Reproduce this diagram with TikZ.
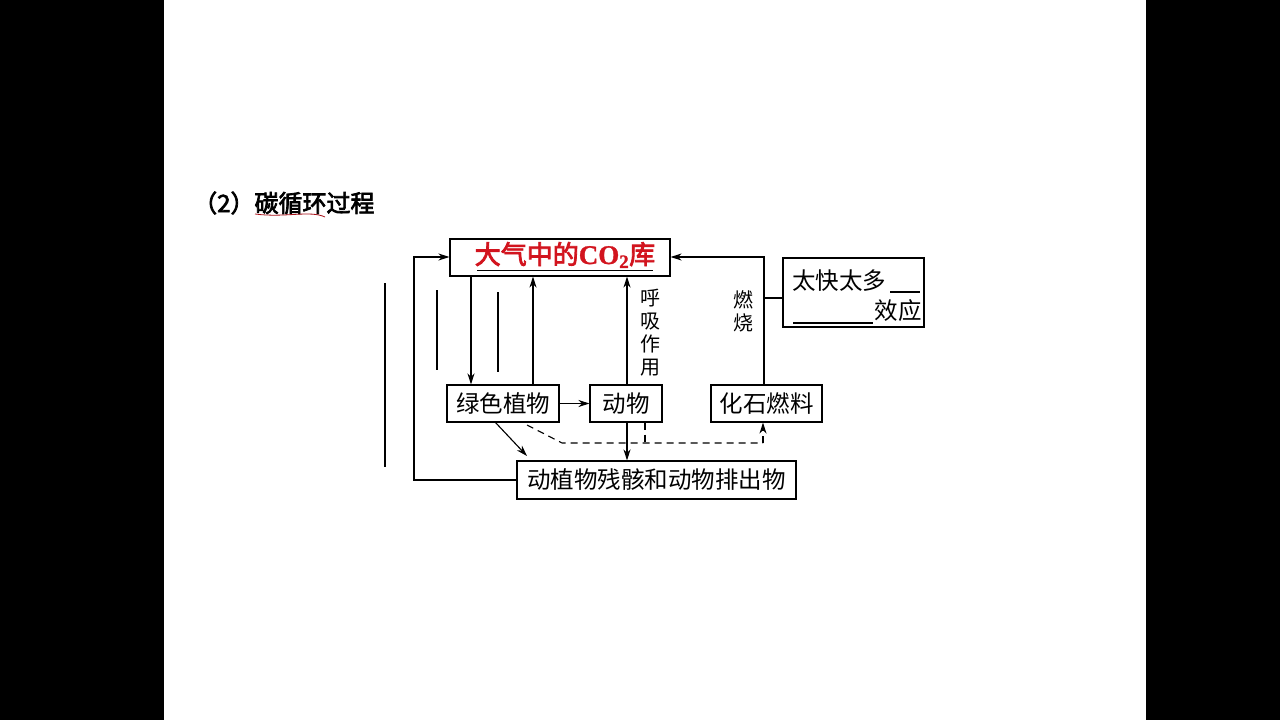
\documentclass[tikz,border=0pt]{standalone}
\usepackage{fontspec}
\newfontfamily\cjk{Noto Sans CJK SC}
\newfontfamily\cjkb{Noto Sans CJK SC}[FakeBold=3]
\newfontfamily\serb{Liberation Serif}[FakeBold=1]
\setmainfont{Liberation Serif}
\usetikzlibrary{arrows.meta}
\definecolor{redtxt}{RGB}{210,20,30}
\begin{document}
\begin{tikzpicture}[x=1pt,y=-1pt,
  box/.style={draw,line width=1.1pt,inner sep=0pt,font=\cjk\fontsize{23.5}{23.5}\selectfont},
  conn/.style={line width=1.1pt,-{Stealth[length=11pt,width=7pt]}},
  plain/.style={line width=1.1pt},
  dashln/.style={line width=1.1pt,dash pattern=on 7pt off 5pt},
  blank/.style={line width=1.1pt}]
\fill[black] (0,0) rectangle (1280,720);
\fill[white] (164,0) rectangle (1146,720);
\useasboundingbox (0,0) rectangle (1280,720);
% title
\node[anchor=west,inner sep=0pt,font=\cjkb\fontsize{24}{24}\selectfont] (title) at (193,203) {（2）碳循环过程};
\draw[redtxt!80!black,line width=0.8pt] (255,214) .. controls (285,218) and (310,210) .. (325,217);
% boxes
\node[box,minimum width=220pt,minimum height=37pt] (atm) at (560,257.5) {};
\node[inner sep=0pt,text=redtxt,font=\cjkb\fontsize{26}{26}\selectfont] (atmt) at (565,255) {大气中的{\serb\bfseries\fontsize{27}{27}\selectfont CO\textsubscript{2}}库};
\draw[line width=0.9pt] (477,270.5) -- (653,270.5);
\node[box,minimum width=112pt,minimum height=37pt] (plant) at (503,403.5) {绿色植物};
\node[box,minimum width=72pt,minimum height=37pt] (animal) at (626,403.5) {动物};
\node[box,minimum width=111pt,minimum height=37pt] (fossil) at (766.5,403.5) {化石燃料};
\node[box,minimum width=279pt,minimum height=38pt] (dead) at (656.5,480) {动植物残骸和动物排出物};
\node[box,minimum width=141pt,minimum height=69pt] (warn) at (853.5,292.5) {};
\node[anchor=west,inner sep=0pt,font=\cjk\fontsize{23.5}{23.5}\selectfont] (w1) at (792,281) {太快太多};
\node[anchor=east,inner sep=0pt,font=\cjk\fontsize{23.5}{23.5}\selectfont] (w2) at (922,311) {效应};
\draw[blank] (890,292) -- (920,292);
\draw[blank] (793,323) -- (873,323);
% answer lines
\draw[blank] (385,283) -- (385,467);
\draw[blank] (437,290) -- (437,370);
\draw[blank] (498,292) -- (498,372);
% connectors
\coordinate (c1) at (414,480);
\coordinate (c2) at (414,257);
\draw[conn] (dead.west |- c1) -- (c1) -- (c2) -- (atm.west |- c2);
\coordinate (x471) at (471,0);
\coordinate (x533) at (533,0);
\coordinate (x627) at (627,0);
\coordinate (x645) at (645,0);
\draw[conn] (atm.south -| x471) -- (plant.north -| x471);
\draw[conn] (plant.north -| x533) -- (atm.south -| x533);
\draw[conn] (plant.east) -- (animal.west);
\draw[conn] (animal.north -| x627) -- (atm.south -| x627);
\coordinate (f1) at (764,257);
\draw[conn] (fossil.north -| f1) -- (f1) -- (atm.east |- f1);
\coordinate (f2) at (764,298);
\draw[plain] (f2) -- (warn.west |- f2);
\coordinate (p1) at (495,422);
\coordinate (p2) at (527,456);
\draw[conn] (p1) -- (p2);
\draw[conn] (animal.south -| x627) -- (dead.north -| x627);
\coordinate (d1) at (527,425);
\coordinate (d2) at (562,443);
\coordinate (d3) at (763,443);
\coordinate (d4) at (645,443);
\draw[dashln] (d1) -- (d2) -- (d3);
\draw[dashln,-{Stealth[length=11pt,width=7pt]}] (d3) -- (fossil.south -| d3);
\draw[dashln] (animal.south -| x645) -- (d4);
% labels
\node[inner sep=0pt,font=\cjk\fontsize{20}{23}\selectfont,align=center] (resp) at (650,333) {呼\\吸\\作\\用};
\node[inner sep=0pt,font=\cjk\fontsize{20}{23}\selectfont,align=center] (burn) at (743,311) {燃\\烧};
\end{tikzpicture}
\end{document}
